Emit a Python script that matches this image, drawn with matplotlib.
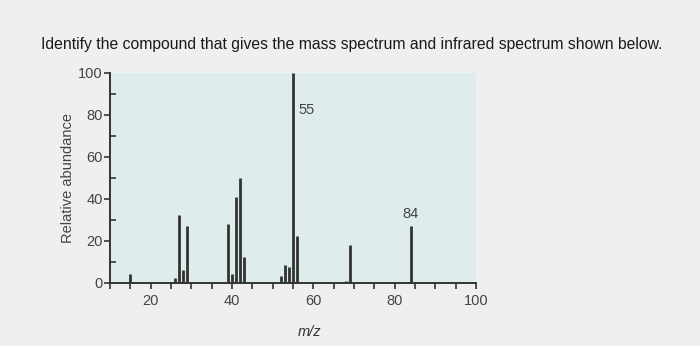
#!/usr/bin/env python3

from matplotlib import pyplot as plt
from matplotlib import ticker

# m/z peaks
mz = [15, 26, 27, 28, 29, 39, 40, 41, 42, 43, 52, 53, 54, 55, 56, 68, 69, 84]
abundance = [4, 2, 32, 6, 27, 28, 4, 41, 50, 12, 3, 8.5, 7.5, 100, 22, 1, 18, 27]

labeled = [55, 84]
x_ticks = [20, 40, 60, 80, 100]
y_ticks = [0, 20, 40, 60, 80, 100]

if __name__ == '__main__':
    plt.rcParams["font.family"] = ["Liberation Sans", "DejaVu Sans"]

    fig = plt.figure(figsize=(7, 3.46), dpi=100)
    fig.patch.set_facecolor("#efefef")

    fig.text(0.058, 0.87, "Identify the compound that gives the mass spectrum and infrared spectrum shown below.",
             fontsize=11.3, color="#1a1a1a", ha="left", va="center")

    ax = fig.add_axes([0.157, 0.183, 0.523, 0.607])
    ax.set_facecolor("#dfecec")

    ax.vlines(mz, 0, abundance, colors="#333333", linewidth=2)

    # peak labels
    ax.text(56.3, 82, "55", fontsize=10.5, color="#444444", ha="left", va="center")
    ax.text(84, 32.5, "84", fontsize=10.5, color="#444444", ha="center", va="center")

    ax.set_xlim(10, 100)
    ax.set_ylim(0, 100)

    ax.set_xticks(x_ticks)
    ax.xaxis.set_minor_locator(ticker.MultipleLocator(5))
    ax.set_yticks(y_ticks)
    ax.yaxis.set_minor_locator(ticker.MultipleLocator(10))

    ax.tick_params(axis="x", which="both", direction="out", length=4, width=1.2,
                   color="#333333", labelsize=10.5, labelcolor="#444444", pad=4)
    ax.tick_params(axis="y", which="major", direction="out", length=4, width=1.2,
                   color="#333333", labelsize=10.5, labelcolor="#444444", pad=1)
    ax.tick_params(axis="y", which="minor", direction="in", length=4, width=1.2, color="#333333")

    for side in ["top", "right"]:
        ax.spines[side].set_visible(False)
    for side in ["left", "bottom"]:
        ax.spines[side].set_color("#333333")
        ax.spines[side].set_linewidth(1.4)

    ax.set_ylabel("Relative abundance", fontsize=10.5, color="#444444")
    ax.yaxis.set_label_coords(-0.095, 0.5)
    ax.set_xlabel("m/z", fontsize=10.5, style="italic", color="#333333")
    ax.xaxis.set_label_coords(0.545, -0.2)

    plt.savefig("out.png", dpi=100, facecolor=fig.get_facecolor())
